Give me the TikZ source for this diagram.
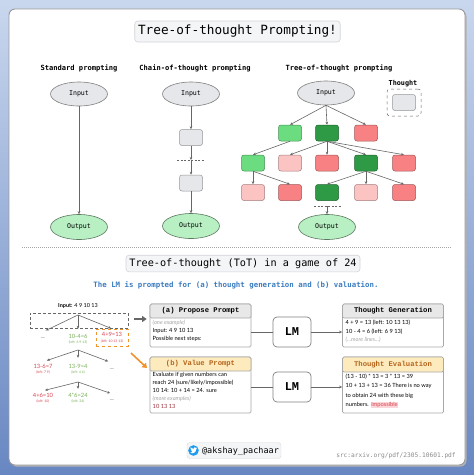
\documentclass[tikz,border=0pt]{standalone}
\usepackage{fontspec}
\setmainfont{Lato}
\newfontfamily\monofont{DejaVu Sans Mono}
\newfontfamily\courfont{Liberation Mono}
\usetikzlibrary{shapes.geometric,arrows.meta}

\definecolor{bgtop}{HTML}{C9D7EE}
\definecolor{bgbot}{HTML}{6887C2}
\definecolor{cardline}{HTML}{9A9A9A}
\definecolor{titlefill}{HTML}{F4F5F7}
\definecolor{titledraw}{HTML}{D2D4D8}
\definecolor{tgray}{HTML}{E5E7EB}
\definecolor{lgreen}{HTML}{6BDC80}
\definecolor{dgreen}{HTML}{2E9A45}
\definecolor{tred}{HTML}{F88283}
\definecolor{tpink}{HTML}{FCC3C3}
\definecolor{infill}{HTML}{E6E7EA}
\definecolor{outfill}{HTML}{B8F0C3}
\definecolor{edgegray}{HTML}{666666}
\definecolor{subblue}{HTML}{3C7DC0}
\definecolor{hdgray}{HTML}{E8E8E8}
\definecolor{hdyellow}{HTML}{FDEBBE}
\definecolor{hdbrown}{HTML}{B4641A}
\definecolor{paneldraw}{HTML}{A8A8A8}
\definecolor{okgreen}{HTML}{78B15A}
\definecolor{badred}{HTML}{D8434F}
\definecolor{pickorange}{HTML}{F0932B}
\definecolor{twblue}{HTML}{1D9BF0}
\definecolor{srcgray}{HTML}{8A8A8A}
\definecolor{hlpink}{HTML}{FBD5D8}

\newcommand{\leftnote}[1]{{\fontsize{3.4}{4}\selectfont #1}}

\begin{document}
\begin{tikzpicture}[x=1pt, y=-1pt, >={Stealth[length=3pt,width=2.6pt]},
    edge/.style={->, draw=edgegray, line width=0.6pt},
    thought/.style={draw=#1!65!black, fill=#1, rounded corners=2.5pt, minimum width=23pt, minimum height=16pt, line width=0.5pt},
    inbub/.style={ellipse, draw=gray, fill=infill, minimum width=57pt, minimum height=24pt, line width=0.6pt, font=\monofont\fontsize{6.6}{8}\selectfont},
    outbub/.style={ellipse, draw=outfill!50!black, fill=outfill, minimum width=57pt, minimum height=25pt, line width=0.6pt, font=\monofont\fontsize{6.6}{8}\selectfont},
    sect/.style={font=\monofont\bfseries\fontsize{7.1}{8}\selectfont},
    titlebox/.style={draw=titledraw, fill=titlefill, rounded corners=3pt, line width=0.6pt},
    gapline/.style={dashed, draw=edgegray, line width=0.5pt, dash pattern=on 2pt off 1.5pt},
    cand/.style={align=center, inner sep=0.5pt, minimum height=14pt, font=\fontsize{5.8}{5.8}\selectfont},
    panel/.style={draw=paneldraw, fill=white, rounded corners=1.5pt, minimum width=101pt, line width=0.7pt},
    head/.style={draw=paneldraw, fill=#1, rounded corners=1.5pt, minimum width=101pt, minimum height=14pt, inner sep=0pt, line width=0.7pt, font=\courfont\bfseries\fontsize{7.2}{8}\selectfont},
    body/.style={anchor=north west, align=left, inner sep=0pt, font=\fontsize{5.7}{8}\selectfont},
    lmbox/.style={draw=gray, fill=white, rounded corners=4pt, minimum width=38pt, minimum height=30pt, line width=0.7pt, font=\courfont\bfseries\fontsize{12}{13}\selectfont}
  ]
    \useasboundingbox (0,0) rectangle (474,475);

    % Background and card
    \shade[top color=bgtop, bottom color=bgbot] (0,0) rectangle (474,475);
    \fill[black!30, rounded corners=6pt] (10.5,10.5) rectangle (466.5,466.5);
    \draw[fill=white, draw=cardline, line width=0.9pt, rounded corners=6pt] (9,9) rectangle (465,465);

    % Titles
    \node[titlebox, minimum width=205pt, minimum height=21pt, font=\monofont\fontsize{12.7}{14}\selectfont] (title) at (237.5,31.5) {Tree-of-thought Prompting!};
    \node[sect] (lstd) at (79,68) {Standard prompting};
    \node[sect] (lcot) at (195,68) {Chain-of-thought prompting};
    \node[sect] (ltot) at (339,68) {Tree-of-thought prompting};

    % Standard prompting
    \node[inbub] (sin) at (79,94) {Input};
    \node[outbub] (sout) at (79,227) {Output};
    \draw[edge] (sin) -- (sout);

    % Chain-of-thought prompting
    \node[inbub] (cin) at (191,94) {Input};
    \node[thought=tgray] (cst1) at (191,137.5) {};
    \coordinate (cgap) at (191,160);
    \node[thought=tgray] (cst2) at (191,183) {};
    \node[outbub] (cout) at (191,226) {Output};
    \draw[edge] (cin) -- (cst1);
    \draw[edge] (cst1) -- (cgap);
    \draw[gapline] ([xshift=-14pt]cgap) -- ([xshift=14pt]cgap);
    \draw[edge] (cgap) -- (cst2);
    \draw[edge] (cst2) -- (cout);

    % Tree-of-thought prompting
    \node[inbub] (tin) at (326,93) {Input};
    \node[sect, font=\monofont\bfseries\fontsize{6.8}{8}\selectfont] (lthought) at (403,84) {Thought};
    \node[draw=edgegray, dashed, rounded corners=3pt, minimum width=34pt, minimum height=27pt, line width=0.5pt] (legend) at (404,102.5) {};
    \node[thought=tgray] (lgbox) at (404,102.5) {};

    \node[thought=lgreen] (r1a) at (290,133) {};
    \node[thought=dgreen] (r1b) at (327,133) {};
    \node[thought=tred] (r1c) at (366,133) {};

    \node[thought=lgreen] (r2a) at (253,163) {};
    \node[thought=tpink] (r2b) at (290,163) {};
    \node[thought=tred] (r2c) at (327,163) {};
    \node[thought=dgreen] (r2d) at (366,163) {};
    \node[thought=tred] (r2e) at (404,163) {};

    \node[thought=tpink] (r3a) at (253,192.5) {};
    \node[thought=tred] (r3b) at (290,192.5) {};
    \node[thought=dgreen] (r3c) at (327,192.5) {};
    \node[thought=tpink] (r3d) at (366,192.5) {};
    \node[thought=tred] (r3e) at (404,192.5) {};

    \coordinate (tgap) at (327,206);
    \node[outbub] (tout) at (327,227) {Output};

    \draw[edge] (tin.south) -- (r1a.north);
    \draw[edge] (tin.south) -- (r1b.north);
    \draw[edge] (tin.south) -- (r1c.north);
    \draw[edge] (r1a.south) -- (r2a.north);
    \draw[edge] (r1b.south) -- (r2b.north);
    \draw[edge] (r1b.south) -- (r2c.north);
    \draw[edge] (r1b.south) -- (r2d.north);
    \draw[edge] (r1b.south) -- (r2e.north);
    \draw[edge] (r2a.south) -- (r3a.north);
    \draw[edge] (r2a.south) -- (r3b.north);
    \draw[edge] (r2d.south) -- (r3c.north);
    \draw[edge] (r2d.south) -- (r3d.north);
    \draw[edge] (r2d.south) -- (r3e.north);
    \draw[gapline] ([xshift=-13pt]tgap) -- ([xshift=14pt]tgap);
    \draw[edge] (tgap) -- (tout);

    % Section separator
    \draw[draw=gray!70, dash pattern=on 1pt off 1pt, line width=0.6pt] (22,247) -- (452,247);

    % Game of 24 heading
    \node[titlebox, minimum width=234pt, minimum height=16pt, font=\monofont\fontsize{10.2}{12}\selectfont] (title2) at (243,263.5) {Tree-of-thought (ToT) in a game of 24};
    \node[font=\monofont\bfseries\fontsize{7.4}{9}\selectfont, text=subblue] (sub) at (236,285) {The LM is prompted for (a) thought generation and (b) valuation.};

    % Game of 24 search tree
    \node[font=\fontsize{5.5}{6}\selectfont] (gin) at (78,306) {\textbf{Input:} 4 9 10 13};
    \node[draw=gray!80!black, dashed, line width=0.8pt, dash pattern=on 3pt off 2pt, minimum width=98pt, minimum height=15pt] (lvl1) at (79,320.5) {};
    \coordinate (t0) at (78,315);
    \node[cand, text=gray] (n11) at (43,339) {---};
    \node[cand, text=okgreen] (n12) at (78,339) {10-4=6\\[-0.5pt]\leftnote{(left: 6 9 13)}};
    \node[cand, text=badred, draw=pickorange, dashed, line width=0.6pt, minimum width=32pt, minimum height=17pt] (n13) at (112,337.5) {4+9=13\\[-0.5pt]\leftnote{(left: 10 13 13)}};
    \draw[edge, shorten >=3pt] (t0) -- (n11.north);
    \draw[edge, shorten >=3pt] (t0) -- (n12.north);
    \draw[edge, shorten >=1pt] (t0) -- (n13.north);

    \coordinate (u0) at (78,350);
    \node[cand, text=badred] (n21) at (43,369) {13-6=7\\[-0.5pt]\leftnote{(left: 7 9)}};
    \node[cand, text=okgreen] (n22) at (78,369) {13-9=4\\[-0.5pt]\leftnote{(left: 4 6)}};
    \node[cand, text=gray] (n23) at (112,370) {---};
    \draw[edge, shorten >=4pt] (u0) -- (n21.north);
    \draw[edge, shorten >=4pt] (u0) -- (n22.north);
    \draw[edge, shorten >=4pt] (u0) -- (n23.north);

    \coordinate (v0) at (78,382);
    \node[cand, text=badred] (n31) at (43,398) {4+6=10\\[-0.5pt]\leftnote{(left: 10)}};
    \node[cand, text=okgreen] (n32) at (78,398) {4*6=24\\[-0.5pt]\leftnote{(left: 24)}};
    \node[cand, text=gray] (n33) at (112,401) {---};
    \draw[edge, shorten >=2pt] (v0) -- (n31.north);
    \draw[edge, shorten >=2pt] (v0) -- (n32.north);
    \draw[edge, shorten >=2pt] (v0) -- (n33.north);

    % Prompt panels
    \node[panel, minimum height=43pt] (propose) at (200.5,325.5) {};
    \node[head=hdgray] (proposeh) at (200.5,311) {(a) Propose Prompt};
    \node[body] (proposeb) at (152.5,320) {\textcolor{gray!70}{\itshape (one example)}\\Input: 4 9 10 13\\Possible next steps:};

    \node[panel, minimum height=56pt] (value) at (200.5,385) {};
    \node[head=hdyellow, text=hdbrown] (valueh) at (200.5,364) {(b) Value Prompt};
    \node[body] (valueb) at (152.5,372) {Evaluate if given numbers can\\reach 24 (sure/likely/impossible)\\10 14: 10 + 14 = 24. sure\\\textcolor{gray!70}{\itshape (more examples)}\\\textcolor{badred!70!black}{10 13 13}};

    % LM calls
    \node[lmbox] (lm1) at (292,332) {LM};
    \node[lmbox] (lm2) at (292,387) {LM};

    % Output panels
    \node[panel, minimum height=43pt] (gen) at (393,325.5) {};
    \node[head=hdgray] (genh) at (393,311) {Thought Generation};
    \node[body, font=\fontsize{5.7}{8.5}\selectfont] (genb) at (345.5,320) {4 + 9 = 13 (left: 10 13 13)\\10 - 4 = 6 (left: 6 9 13)\\\textcolor{gray!70}{\itshape (...more lines...)}};

    \node[panel, minimum height=56pt] (eval) at (393,385) {};
    \node[head=hdyellow, text=hdbrown, minimum height=15pt] (evalh) at (393,364.5) {Thought Evaluation};
    \node[body, font=\fontsize{5.7}{9.3}\selectfont] (evalb) at (345.5,374) {(13 - 10) * 13 = 3 * 13 = 39\\10 + 13 + 13 = 36 There is no way\\to obtain 24 with these big\\numbers. {\setlength{\fboxsep}{0.6pt}\colorbox{hlpink}{\textcolor{badred}{impossible}}}};

    % Connections between panels
    \draw[draw=edgegray, line width=0.7pt] (lm1.west -| propose.east) -- (lm1.west);
    \draw[edge, line width=0.7pt] (lm1.east) -- (lm1.east -| gen.west);
    \draw[draw=edgegray, line width=0.7pt] (lm2.west -| value.east) -- (lm2.west);
    \draw[edge, line width=0.7pt] (lm2.east) -- (lm2.east -| eval.west);

    % Pointers from the tree to the prompts
    \draw[-{Triangle[length=4.5pt,width=6pt]}, draw=edgegray, line width=1.8pt, shorten <=6pt, shorten >=3pt] (lvl1.east |- 0,319) -- (propose.west |- 0,319);
    \coordinate (ostart) at (131,353);
    \coordinate (oend) at (147,368);
    \draw[-{Triangle[length=4.5pt,width=6pt]}, draw=pickorange, line width=1.6pt] (ostart) -- (oend);

    % Footer
    \node[draw=gray!30, fill=titlefill, rounded corners=3pt, minimum width=94pt, minimum height=16pt] (badge) at (234,450.5) {};
    \fill[twblue] (193.5,450.5) circle (5.3pt);
    \fill[white] (190.3,452.6) .. controls (192.5,454.2) and (196.2,453) .. (196.4,448.6) -- (197.4,447.6) -- (196.3,447.9) .. controls (195.3,446.6) and (193.2,447.4) .. (193.6,449) .. controls (192,448.9) and (191,448.2) .. (190.3,447.3) .. controls (189.9,448.4) and (190.4,449.4) .. (191.1,449.9) .. controls (191.3,451) and (191.6,451.6) .. (192.3,452) .. controls (191.6,452.4) and (191,452.6) .. (190.3,452.6) -- cycle;
    \node[font=\monofont\fontsize{8.5}{10}\selectfont] (handle) at (240.5,451) {@akshay\_pachaar};
    \node[font=\monofont\fontsize{6.2}{7}\selectfont, text=srcgray] (src) at (396,456) {src:arxiv.org/pdf/2305.10601.pdf};
\end{tikzpicture}
\end{document}
